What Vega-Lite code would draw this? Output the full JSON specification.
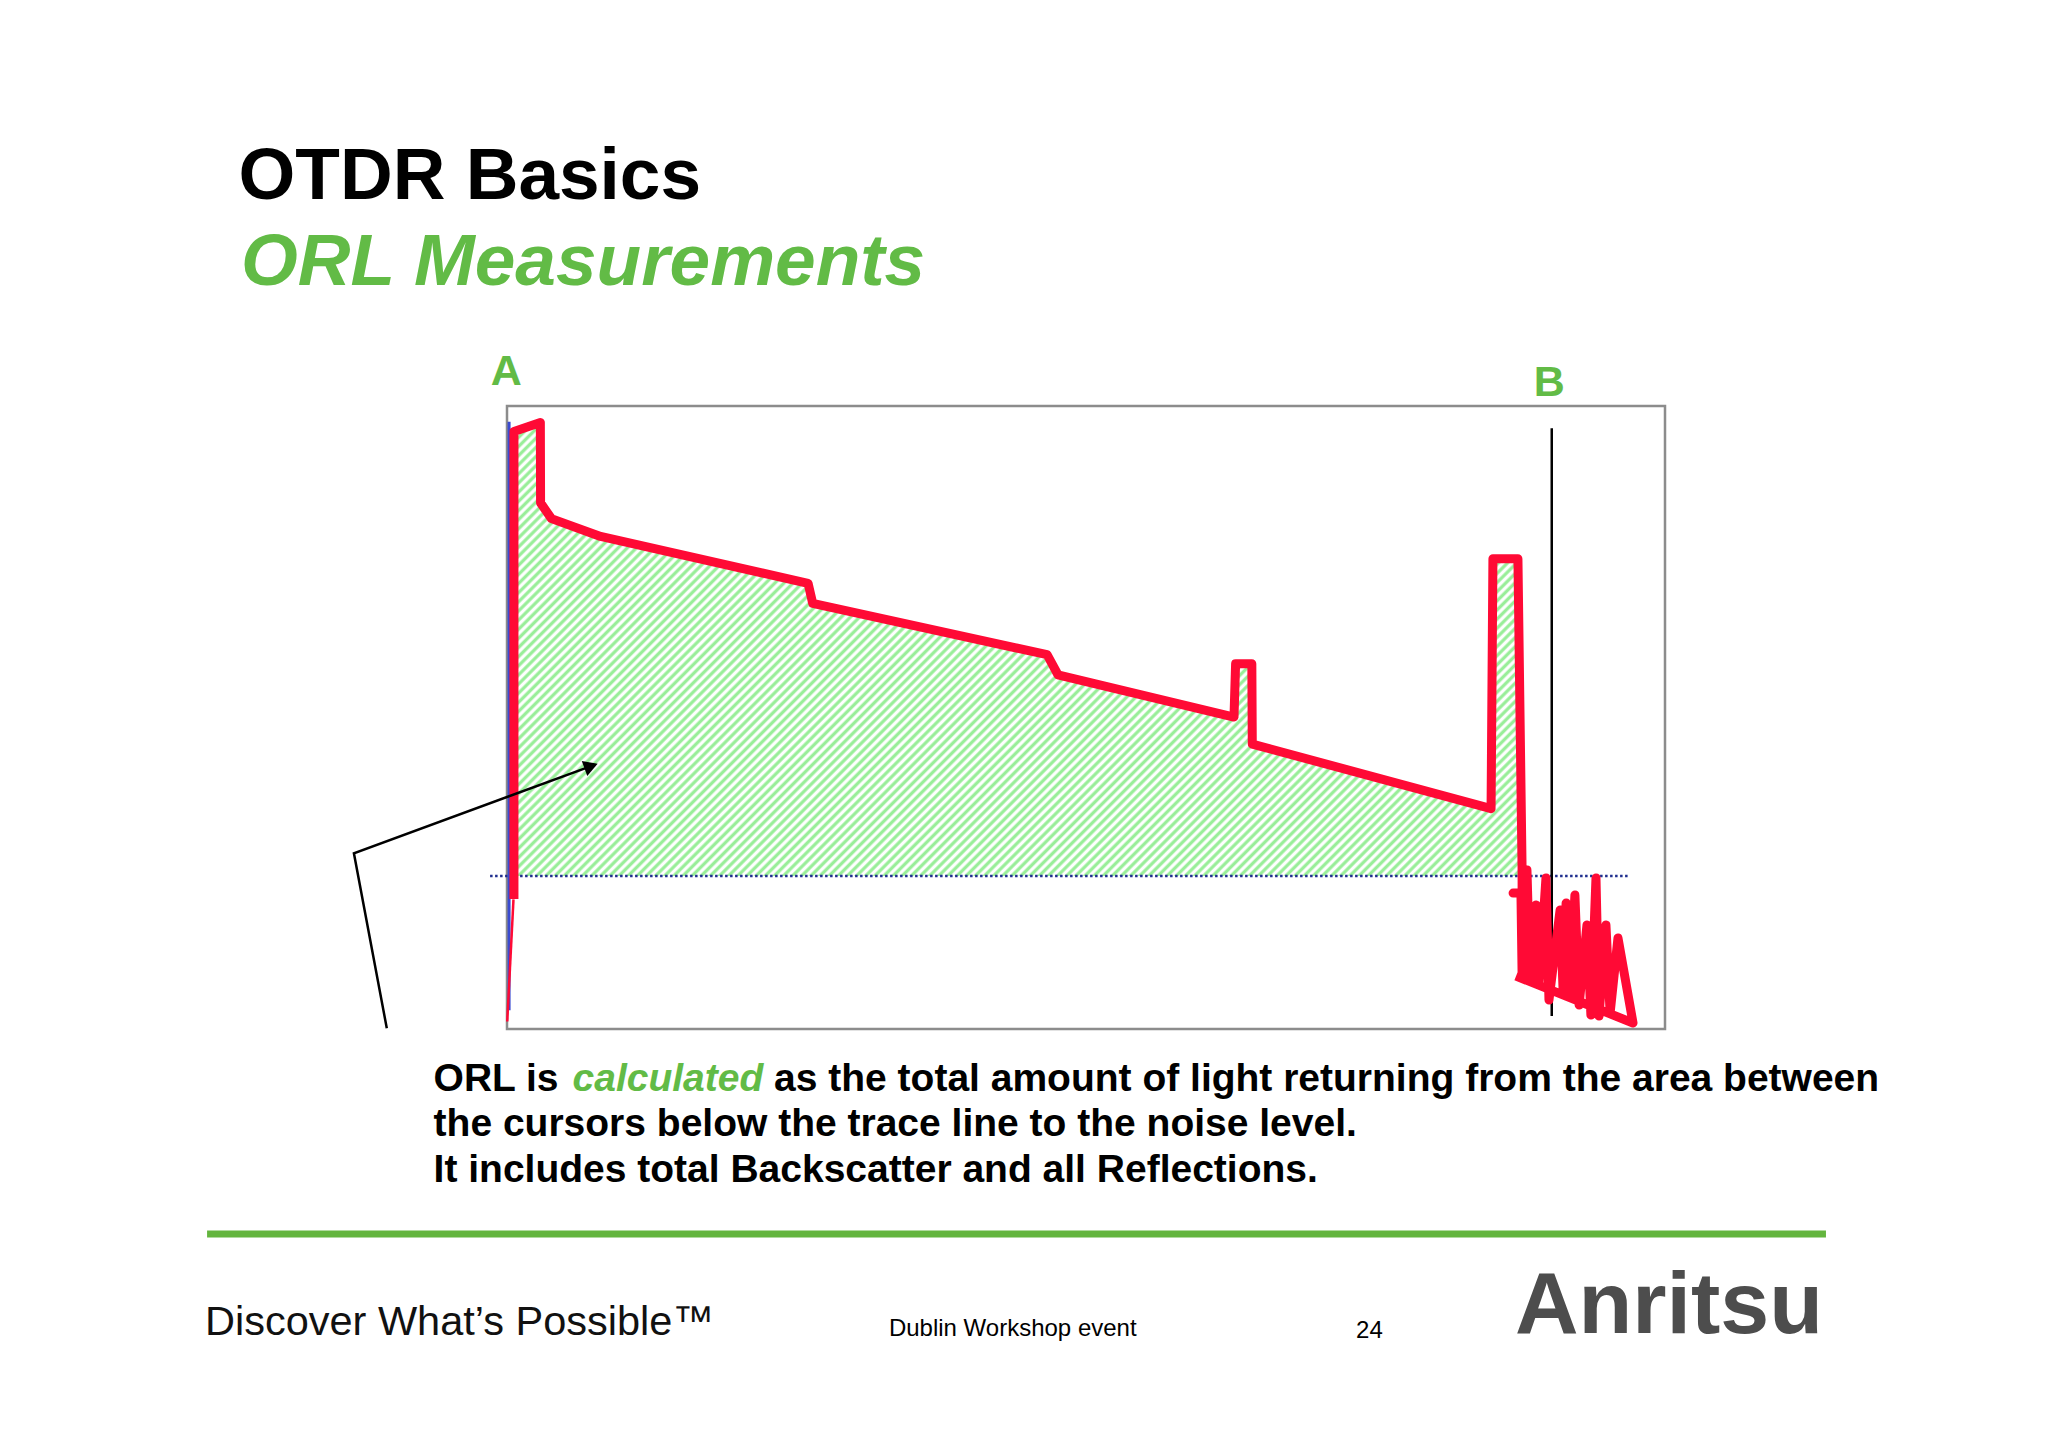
{
  "$schema": "https://vega.github.io/schema/vega-lite/v6.json",
  "width": 1158,
  "height": 623,
  "autosize": {"type": "none"},
  "padding": {"left": 507, "top": 406, "right": 383, "bottom": 418},
  "background": "#ffffff",
  "config": {"view": {"stroke": "#8c8c8c", "strokeWidth": 2.5}, "font": "Liberation Sans"},
  "data": {"values": [{"one": 1}]},
  "datasets": {
    "trace": [
      {"i": 1, "km": 0.30, "db": 10.43},
      {"i": 2, "km": 0.30, "db": 47.95},
      {"i": 3, "km": 1.44, "db": 48.67},
      {"i": 4, "km": 1.45, "db": 42.22},
      {"i": 5, "km": 1.92, "db": 40.96},
      {"i": 6, "km": 4.04, "db": 39.53},
      {"i": 7, "km": 13.00, "db": 35.77},
      {"i": 8, "km": 13.20, "db": 34.16},
      {"i": 9, "km": 23.32, "db": 30.04},
      {"i": 10, "km": 23.79, "db": 28.43},
      {"i": 11, "km": 31.39, "db": 25.04},
      {"i": 12, "km": 31.46, "db": 29.32},
      {"i": 13, "km": 32.16, "db": 29.32},
      {"i": 14, "km": 32.18, "db": 22.87},
      {"i": 15, "km": 42.49, "db": 17.68},
      {"i": 16, "km": 42.57, "db": 37.74},
      {"i": 17, "km": 43.65, "db": 37.74},
      {"i": 18, "km": 43.83, "db": 12.68},
      {"i": 19, "km": 43.83, "db": 10.91},
      {"i": 20, "km": 43.44, "db": 10.91},
      {"i": 21, "km": 43.78, "db": 10.91},
      {"i": 22, "km": 43.83, "db": 4.33},
      {"i": 23, "km": 44.04, "db": 12.76},
      {"i": 24, "km": 44.17, "db": 4.09},
      {"i": 25, "km": 44.43, "db": 9.95},
      {"i": 26, "km": 44.56, "db": 3.53},
      {"i": 27, "km": 44.86, "db": 12.12},
      {"i": 28, "km": 44.99, "db": 2.33},
      {"i": 29, "km": 45.47, "db": 9.55},
      {"i": 30, "km": 45.60, "db": 3.13},
      {"i": 31, "km": 45.73, "db": 10.11},
      {"i": 32, "km": 45.90, "db": 2.73},
      {"i": 33, "km": 46.11, "db": 10.75},
      {"i": 34, "km": 46.29, "db": 1.93},
      {"i": 35, "km": 46.63, "db": 8.35},
      {"i": 36, "km": 46.80, "db": 1.12},
      {"i": 37, "km": 47.02, "db": 12.12},
      {"i": 38, "km": 47.15, "db": 1.04},
      {"i": 39, "km": 47.45, "db": 8.35},
      {"i": 40, "km": 47.63, "db": 1.28},
      {"i": 41, "km": 47.97, "db": 7.30},
      {"i": 42, "km": 48.62, "db": 0.48},
      {"i": 43, "km": 43.57, "db": 4.25}
    ],
    "launch": [
      {"i": 1, "km": 0.01, "db": 0.60},
      {"i": 2, "km": 0.28, "db": 10.40}
    ],
    "arrow": [
      {"i": 1, "km": -5.19, "db": 0.06},
      {"i": 2, "km": -6.61, "db": 14.10},
      {"i": 3, "km": 3.63, "db": 21.10}
    ]
  },
  "layer": [
    {
      "data": {"name": "trace"},
      "transform": [{"filter": "datum.i >= 2 && datum.i <= 18"}],
      "mark": {"type": "area", "fill": "#cdf5cb", "fillOpacity": 1},
      "encoding": {
        "x": {"field": "km", "type": "quantitative", "scale": {"domain": [0, 50], "nice": false, "zero": false}, "axis": null},
        "y": {"field": "db", "type": "quantitative", "scale": {"domain": [0, 50], "nice": false, "zero": false}, "axis": null},
        "y2": {"datum": 12.28}
      }
    },
    {
      "data": {"name": "trace"},
      "transform": [{"filter": "datum.i >= 2 && datum.i <= 18"}],
      "mark": {"type": "area", "fillOpacity": 1, "fill": {"gradient": "linear", "x1": 0, "y1": 0, "x2": 1.2059, "y2": 0.5424, "stops": [
{"offset":0,"color":"#9e9"},{"offset":0.0015625,"color":"#9e9"},{"offset":0.003125,"color":"#fff"},{"offset":0.0046875,"color":"#fff"},{"offset":0.00625,"color":"#9e9"},{"offset":0.0078125,"color":"#9e9"},{"offset":0.009375,"color":"#fff"},{"offset":0.0109375,"color":"#fff"},{"offset":0.0125,"color":"#9e9"},{"offset":0.0140625,"color":"#9e9"},{"offset":0.015625,"color":"#fff"},{"offset":0.0171875,"color":"#fff"},{"offset":0.01875,"color":"#9e9"},{"offset":0.0203125,"color":"#9e9"},{"offset":0.021875,"color":"#fff"},{"offset":0.0234375,"color":"#fff"},
{"offset":0.025,"color":"#9e9"},{"offset":0.0265625,"color":"#9e9"},{"offset":0.028125,"color":"#fff"},{"offset":0.0296875,"color":"#fff"},{"offset":0.03125,"color":"#9e9"},{"offset":0.0328125,"color":"#9e9"},{"offset":0.034375,"color":"#fff"},{"offset":0.0359375,"color":"#fff"},{"offset":0.0375,"color":"#9e9"},{"offset":0.0390625,"color":"#9e9"},{"offset":0.040625,"color":"#fff"},{"offset":0.0421875,"color":"#fff"},{"offset":0.04375,"color":"#9e9"},{"offset":0.0453125,"color":"#9e9"},{"offset":0.046875,"color":"#fff"},{"offset":0.0484375,"color":"#fff"},
{"offset":0.05,"color":"#9e9"},{"offset":0.0515625,"color":"#9e9"},{"offset":0.053125,"color":"#fff"},{"offset":0.0546875,"color":"#fff"},{"offset":0.05625,"color":"#9e9"},{"offset":0.0578125,"color":"#9e9"},{"offset":0.059375,"color":"#fff"},{"offset":0.0609375,"color":"#fff"},{"offset":0.0625,"color":"#9e9"},{"offset":0.0640625,"color":"#9e9"},{"offset":0.065625,"color":"#fff"},{"offset":0.0671875,"color":"#fff"},{"offset":0.06875,"color":"#9e9"},{"offset":0.0703125,"color":"#9e9"},{"offset":0.071875,"color":"#fff"},{"offset":0.0734375,"color":"#fff"},
{"offset":0.075,"color":"#9e9"},{"offset":0.0765625,"color":"#9e9"},{"offset":0.078125,"color":"#fff"},{"offset":0.0796875,"color":"#fff"},{"offset":0.08125,"color":"#9e9"},{"offset":0.0828125,"color":"#9e9"},{"offset":0.084375,"color":"#fff"},{"offset":0.0859375,"color":"#fff"},{"offset":0.0875,"color":"#9e9"},{"offset":0.0890625,"color":"#9e9"},{"offset":0.090625,"color":"#fff"},{"offset":0.0921875,"color":"#fff"},{"offset":0.09375,"color":"#9e9"},{"offset":0.0953125,"color":"#9e9"},{"offset":0.096875,"color":"#fff"},{"offset":0.0984375,"color":"#fff"},
{"offset":0.1,"color":"#9e9"},{"offset":0.1015625,"color":"#9e9"},{"offset":0.103125,"color":"#fff"},{"offset":0.1046875,"color":"#fff"},{"offset":0.10625,"color":"#9e9"},{"offset":0.1078125,"color":"#9e9"},{"offset":0.109375,"color":"#fff"},{"offset":0.1109375,"color":"#fff"},{"offset":0.1125,"color":"#9e9"},{"offset":0.1140625,"color":"#9e9"},{"offset":0.115625,"color":"#fff"},{"offset":0.1171875,"color":"#fff"},{"offset":0.11875,"color":"#9e9"},{"offset":0.1203125,"color":"#9e9"},{"offset":0.121875,"color":"#fff"},{"offset":0.1234375,"color":"#fff"},
{"offset":0.125,"color":"#9e9"},{"offset":0.1265625,"color":"#9e9"},{"offset":0.128125,"color":"#fff"},{"offset":0.1296875,"color":"#fff"},{"offset":0.13125,"color":"#9e9"},{"offset":0.1328125,"color":"#9e9"},{"offset":0.134375,"color":"#fff"},{"offset":0.1359375,"color":"#fff"},{"offset":0.1375,"color":"#9e9"},{"offset":0.1390625,"color":"#9e9"},{"offset":0.140625,"color":"#fff"},{"offset":0.1421875,"color":"#fff"},{"offset":0.14375,"color":"#9e9"},{"offset":0.1453125,"color":"#9e9"},{"offset":0.146875,"color":"#fff"},{"offset":0.1484375,"color":"#fff"},
{"offset":0.15,"color":"#9e9"},{"offset":0.1515625,"color":"#9e9"},{"offset":0.153125,"color":"#fff"},{"offset":0.1546875,"color":"#fff"},{"offset":0.15625,"color":"#9e9"},{"offset":0.1578125,"color":"#9e9"},{"offset":0.159375,"color":"#fff"},{"offset":0.1609375,"color":"#fff"},{"offset":0.1625,"color":"#9e9"},{"offset":0.1640625,"color":"#9e9"},{"offset":0.165625,"color":"#fff"},{"offset":0.1671875,"color":"#fff"},{"offset":0.16875,"color":"#9e9"},{"offset":0.1703125,"color":"#9e9"},{"offset":0.171875,"color":"#fff"},{"offset":0.1734375,"color":"#fff"},
{"offset":0.175,"color":"#9e9"},{"offset":0.1765625,"color":"#9e9"},{"offset":0.178125,"color":"#fff"},{"offset":0.1796875,"color":"#fff"},{"offset":0.18125,"color":"#9e9"},{"offset":0.1828125,"color":"#9e9"},{"offset":0.184375,"color":"#fff"},{"offset":0.1859375,"color":"#fff"},{"offset":0.1875,"color":"#9e9"},{"offset":0.1890625,"color":"#9e9"},{"offset":0.190625,"color":"#fff"},{"offset":0.1921875,"color":"#fff"},{"offset":0.19375,"color":"#9e9"},{"offset":0.1953125,"color":"#9e9"},{"offset":0.196875,"color":"#fff"},{"offset":0.1984375,"color":"#fff"},
{"offset":0.2,"color":"#9e9"},{"offset":0.2015625,"color":"#9e9"},{"offset":0.203125,"color":"#fff"},{"offset":0.2046875,"color":"#fff"},{"offset":0.20625,"color":"#9e9"},{"offset":0.2078125,"color":"#9e9"},{"offset":0.209375,"color":"#fff"},{"offset":0.2109375,"color":"#fff"},{"offset":0.2125,"color":"#9e9"},{"offset":0.2140625,"color":"#9e9"},{"offset":0.215625,"color":"#fff"},{"offset":0.2171875,"color":"#fff"},{"offset":0.21875,"color":"#9e9"},{"offset":0.2203125,"color":"#9e9"},{"offset":0.221875,"color":"#fff"},{"offset":0.2234375,"color":"#fff"},
{"offset":0.225,"color":"#9e9"},{"offset":0.2265625,"color":"#9e9"},{"offset":0.228125,"color":"#fff"},{"offset":0.2296875,"color":"#fff"},{"offset":0.23125,"color":"#9e9"},{"offset":0.2328125,"color":"#9e9"},{"offset":0.234375,"color":"#fff"},{"offset":0.2359375,"color":"#fff"},{"offset":0.2375,"color":"#9e9"},{"offset":0.2390625,"color":"#9e9"},{"offset":0.240625,"color":"#fff"},{"offset":0.2421875,"color":"#fff"},{"offset":0.24375,"color":"#9e9"},{"offset":0.2453125,"color":"#9e9"},{"offset":0.246875,"color":"#fff"},{"offset":0.2484375,"color":"#fff"},
{"offset":0.25,"color":"#9e9"},{"offset":0.2515625,"color":"#9e9"},{"offset":0.253125,"color":"#fff"},{"offset":0.2546875,"color":"#fff"},{"offset":0.25625,"color":"#9e9"},{"offset":0.2578125,"color":"#9e9"},{"offset":0.259375,"color":"#fff"},{"offset":0.2609375,"color":"#fff"},{"offset":0.2625,"color":"#9e9"},{"offset":0.2640625,"color":"#9e9"},{"offset":0.265625,"color":"#fff"},{"offset":0.2671875,"color":"#fff"},{"offset":0.26875,"color":"#9e9"},{"offset":0.2703125,"color":"#9e9"},{"offset":0.271875,"color":"#fff"},{"offset":0.2734375,"color":"#fff"},
{"offset":0.275,"color":"#9e9"},{"offset":0.2765625,"color":"#9e9"},{"offset":0.278125,"color":"#fff"},{"offset":0.2796875,"color":"#fff"},{"offset":0.28125,"color":"#9e9"},{"offset":0.2828125,"color":"#9e9"},{"offset":0.284375,"color":"#fff"},{"offset":0.2859375,"color":"#fff"},{"offset":0.2875,"color":"#9e9"},{"offset":0.2890625,"color":"#9e9"},{"offset":0.290625,"color":"#fff"},{"offset":0.2921875,"color":"#fff"},{"offset":0.29375,"color":"#9e9"},{"offset":0.2953125,"color":"#9e9"},{"offset":0.296875,"color":"#fff"},{"offset":0.2984375,"color":"#fff"},
{"offset":0.3,"color":"#9e9"},{"offset":0.3015625,"color":"#9e9"},{"offset":0.303125,"color":"#fff"},{"offset":0.3046875,"color":"#fff"},{"offset":0.30625,"color":"#9e9"},{"offset":0.3078125,"color":"#9e9"},{"offset":0.309375,"color":"#fff"},{"offset":0.3109375,"color":"#fff"},{"offset":0.3125,"color":"#9e9"},{"offset":0.3140625,"color":"#9e9"},{"offset":0.315625,"color":"#fff"},{"offset":0.3171875,"color":"#fff"},{"offset":0.31875,"color":"#9e9"},{"offset":0.3203125,"color":"#9e9"},{"offset":0.321875,"color":"#fff"},{"offset":0.3234375,"color":"#fff"},
{"offset":0.325,"color":"#9e9"},{"offset":0.3265625,"color":"#9e9"},{"offset":0.328125,"color":"#fff"},{"offset":0.3296875,"color":"#fff"},{"offset":0.33125,"color":"#9e9"},{"offset":0.3328125,"color":"#9e9"},{"offset":0.334375,"color":"#fff"},{"offset":0.3359375,"color":"#fff"},{"offset":0.3375,"color":"#9e9"},{"offset":0.3390625,"color":"#9e9"},{"offset":0.340625,"color":"#fff"},{"offset":0.3421875,"color":"#fff"},{"offset":0.34375,"color":"#9e9"},{"offset":0.3453125,"color":"#9e9"},{"offset":0.346875,"color":"#fff"},{"offset":0.3484375,"color":"#fff"},
{"offset":0.35,"color":"#9e9"},{"offset":0.3515625,"color":"#9e9"},{"offset":0.353125,"color":"#fff"},{"offset":0.3546875,"color":"#fff"},{"offset":0.35625,"color":"#9e9"},{"offset":0.3578125,"color":"#9e9"},{"offset":0.359375,"color":"#fff"},{"offset":0.3609375,"color":"#fff"},{"offset":0.3625,"color":"#9e9"},{"offset":0.3640625,"color":"#9e9"},{"offset":0.365625,"color":"#fff"},{"offset":0.3671875,"color":"#fff"},{"offset":0.36875,"color":"#9e9"},{"offset":0.3703125,"color":"#9e9"},{"offset":0.371875,"color":"#fff"},{"offset":0.3734375,"color":"#fff"},
{"offset":0.375,"color":"#9e9"},{"offset":0.3765625,"color":"#9e9"},{"offset":0.378125,"color":"#fff"},{"offset":0.3796875,"color":"#fff"},{"offset":0.38125,"color":"#9e9"},{"offset":0.3828125,"color":"#9e9"},{"offset":0.384375,"color":"#fff"},{"offset":0.3859375,"color":"#fff"},{"offset":0.3875,"color":"#9e9"},{"offset":0.3890625,"color":"#9e9"},{"offset":0.390625,"color":"#fff"},{"offset":0.3921875,"color":"#fff"},{"offset":0.39375,"color":"#9e9"},{"offset":0.3953125,"color":"#9e9"},{"offset":0.396875,"color":"#fff"},{"offset":0.3984375,"color":"#fff"},
{"offset":0.4,"color":"#9e9"},{"offset":0.4015625,"color":"#9e9"},{"offset":0.403125,"color":"#fff"},{"offset":0.4046875,"color":"#fff"},{"offset":0.40625,"color":"#9e9"},{"offset":0.4078125,"color":"#9e9"},{"offset":0.409375,"color":"#fff"},{"offset":0.4109375,"color":"#fff"},{"offset":0.4125,"color":"#9e9"},{"offset":0.4140625,"color":"#9e9"},{"offset":0.415625,"color":"#fff"},{"offset":0.4171875,"color":"#fff"},{"offset":0.41875,"color":"#9e9"},{"offset":0.4203125,"color":"#9e9"},{"offset":0.421875,"color":"#fff"},{"offset":0.4234375,"color":"#fff"},
{"offset":0.425,"color":"#9e9"},{"offset":0.4265625,"color":"#9e9"},{"offset":0.428125,"color":"#fff"},{"offset":0.4296875,"color":"#fff"},{"offset":0.43125,"color":"#9e9"},{"offset":0.4328125,"color":"#9e9"},{"offset":0.434375,"color":"#fff"},{"offset":0.4359375,"color":"#fff"},{"offset":0.4375,"color":"#9e9"},{"offset":0.4390625,"color":"#9e9"},{"offset":0.440625,"color":"#fff"},{"offset":0.4421875,"color":"#fff"},{"offset":0.44375,"color":"#9e9"},{"offset":0.4453125,"color":"#9e9"},{"offset":0.446875,"color":"#fff"},{"offset":0.4484375,"color":"#fff"},
{"offset":0.45,"color":"#9e9"},{"offset":0.4515625,"color":"#9e9"},{"offset":0.453125,"color":"#fff"},{"offset":0.4546875,"color":"#fff"},{"offset":0.45625,"color":"#9e9"},{"offset":0.4578125,"color":"#9e9"},{"offset":0.459375,"color":"#fff"},{"offset":0.4609375,"color":"#fff"},{"offset":0.4625,"color":"#9e9"},{"offset":0.4640625,"color":"#9e9"},{"offset":0.465625,"color":"#fff"},{"offset":0.4671875,"color":"#fff"},{"offset":0.46875,"color":"#9e9"},{"offset":0.4703125,"color":"#9e9"},{"offset":0.471875,"color":"#fff"},{"offset":0.4734375,"color":"#fff"},
{"offset":0.475,"color":"#9e9"},{"offset":0.4765625,"color":"#9e9"},{"offset":0.478125,"color":"#fff"},{"offset":0.4796875,"color":"#fff"},{"offset":0.48125,"color":"#9e9"},{"offset":0.4828125,"color":"#9e9"},{"offset":0.484375,"color":"#fff"},{"offset":0.4859375,"color":"#fff"},{"offset":0.4875,"color":"#9e9"},{"offset":0.4890625,"color":"#9e9"},{"offset":0.490625,"color":"#fff"},{"offset":0.4921875,"color":"#fff"},{"offset":0.49375,"color":"#9e9"},{"offset":0.4953125,"color":"#9e9"},{"offset":0.496875,"color":"#fff"},{"offset":0.4984375,"color":"#fff"},
{"offset":0.5,"color":"#9e9"},{"offset":0.5015625,"color":"#9e9"},{"offset":0.503125,"color":"#fff"},{"offset":0.5046875,"color":"#fff"},{"offset":0.50625,"color":"#9e9"},{"offset":0.5078125,"color":"#9e9"},{"offset":0.509375,"color":"#fff"},{"offset":0.5109375,"color":"#fff"},{"offset":0.5125,"color":"#9e9"},{"offset":0.5140625,"color":"#9e9"},{"offset":0.515625,"color":"#fff"},{"offset":0.5171875,"color":"#fff"},{"offset":0.51875,"color":"#9e9"},{"offset":0.5203125,"color":"#9e9"},{"offset":0.521875,"color":"#fff"},{"offset":0.5234375,"color":"#fff"},
{"offset":0.525,"color":"#9e9"},{"offset":0.5265625,"color":"#9e9"},{"offset":0.528125,"color":"#fff"},{"offset":0.5296875,"color":"#fff"},{"offset":0.53125,"color":"#9e9"},{"offset":0.5328125,"color":"#9e9"},{"offset":0.534375,"color":"#fff"},{"offset":0.5359375,"color":"#fff"},{"offset":0.5375,"color":"#9e9"},{"offset":0.5390625,"color":"#9e9"},{"offset":0.540625,"color":"#fff"},{"offset":0.5421875,"color":"#fff"},{"offset":0.54375,"color":"#9e9"},{"offset":0.5453125,"color":"#9e9"},{"offset":0.546875,"color":"#fff"},{"offset":0.5484375,"color":"#fff"},
{"offset":0.55,"color":"#9e9"},{"offset":0.5515625,"color":"#9e9"},{"offset":0.553125,"color":"#fff"},{"offset":0.5546875,"color":"#fff"},{"offset":0.55625,"color":"#9e9"},{"offset":0.5578125,"color":"#9e9"},{"offset":0.559375,"color":"#fff"},{"offset":0.5609375,"color":"#fff"},{"offset":0.5625,"color":"#9e9"},{"offset":0.5640625,"color":"#9e9"},{"offset":0.565625,"color":"#fff"},{"offset":0.5671875,"color":"#fff"},{"offset":0.56875,"color":"#9e9"},{"offset":0.5703125,"color":"#9e9"},{"offset":0.571875,"color":"#fff"},{"offset":0.5734375,"color":"#fff"},
{"offset":0.575,"color":"#9e9"},{"offset":0.5765625,"color":"#9e9"},{"offset":0.578125,"color":"#fff"},{"offset":0.5796875,"color":"#fff"},{"offset":0.58125,"color":"#9e9"},{"offset":0.5828125,"color":"#9e9"},{"offset":0.584375,"color":"#fff"},{"offset":0.5859375,"color":"#fff"},{"offset":0.5875,"color":"#9e9"},{"offset":0.5890625,"color":"#9e9"},{"offset":0.590625,"color":"#fff"},{"offset":0.5921875,"color":"#fff"},{"offset":0.59375,"color":"#9e9"},{"offset":0.5953125,"color":"#9e9"},{"offset":0.596875,"color":"#fff"},{"offset":0.5984375,"color":"#fff"},
{"offset":0.6,"color":"#9e9"},{"offset":0.6015625,"color":"#9e9"},{"offset":0.603125,"color":"#fff"},{"offset":0.6046875,"color":"#fff"},{"offset":0.60625,"color":"#9e9"},{"offset":0.6078125,"color":"#9e9"},{"offset":0.609375,"color":"#fff"},{"offset":0.6109375,"color":"#fff"},{"offset":0.6125,"color":"#9e9"},{"offset":0.6140625,"color":"#9e9"},{"offset":0.615625,"color":"#fff"},{"offset":0.6171875,"color":"#fff"},{"offset":0.61875,"color":"#9e9"},{"offset":0.6203125,"color":"#9e9"},{"offset":0.621875,"color":"#fff"},{"offset":0.6234375,"color":"#fff"},
{"offset":0.625,"color":"#9e9"},{"offset":0.6265625,"color":"#9e9"},{"offset":0.628125,"color":"#fff"},{"offset":0.6296875,"color":"#fff"},{"offset":0.63125,"color":"#9e9"},{"offset":0.6328125,"color":"#9e9"},{"offset":0.634375,"color":"#fff"},{"offset":0.6359375,"color":"#fff"},{"offset":0.6375,"color":"#9e9"},{"offset":0.6390625,"color":"#9e9"},{"offset":0.640625,"color":"#fff"},{"offset":0.6421875,"color":"#fff"},{"offset":0.64375,"color":"#9e9"},{"offset":0.6453125,"color":"#9e9"},{"offset":0.646875,"color":"#fff"},{"offset":0.6484375,"color":"#fff"},
{"offset":0.65,"color":"#9e9"},{"offset":0.6515625,"color":"#9e9"},{"offset":0.653125,"color":"#fff"},{"offset":0.6546875,"color":"#fff"},{"offset":0.65625,"color":"#9e9"},{"offset":0.6578125,"color":"#9e9"},{"offset":0.659375,"color":"#fff"},{"offset":0.6609375,"color":"#fff"},{"offset":0.6625,"color":"#9e9"},{"offset":0.6640625,"color":"#9e9"},{"offset":0.665625,"color":"#fff"},{"offset":0.6671875,"color":"#fff"},{"offset":0.66875,"color":"#9e9"},{"offset":0.6703125,"color":"#9e9"},{"offset":0.671875,"color":"#fff"},{"offset":0.6734375,"color":"#fff"},
{"offset":0.675,"color":"#9e9"},{"offset":0.6765625,"color":"#9e9"},{"offset":0.678125,"color":"#fff"},{"offset":0.6796875,"color":"#fff"},{"offset":0.68125,"color":"#9e9"},{"offset":0.6828125,"color":"#9e9"},{"offset":0.684375,"color":"#fff"},{"offset":0.6859375,"color":"#fff"},{"offset":0.6875,"color":"#9e9"},{"offset":0.6890625,"color":"#9e9"},{"offset":0.690625,"color":"#fff"},{"offset":0.6921875,"color":"#fff"},{"offset":0.69375,"color":"#9e9"},{"offset":0.6953125,"color":"#9e9"},{"offset":0.696875,"color":"#fff"},{"offset":0.6984375,"color":"#fff"},
{"offset":0.7,"color":"#9e9"},{"offset":0.7015625,"color":"#9e9"},{"offset":0.703125,"color":"#fff"},{"offset":0.7046875,"color":"#fff"},{"offset":0.70625,"color":"#9e9"},{"offset":0.7078125,"color":"#9e9"},{"offset":0.709375,"color":"#fff"},{"offset":0.7109375,"color":"#fff"},{"offset":0.7125,"color":"#9e9"},{"offset":0.7140625,"color":"#9e9"},{"offset":0.715625,"color":"#fff"},{"offset":0.7171875,"color":"#fff"},{"offset":0.71875,"color":"#9e9"},{"offset":0.7203125,"color":"#9e9"},{"offset":0.721875,"color":"#fff"},{"offset":0.7234375,"color":"#fff"},
{"offset":0.725,"color":"#9e9"},{"offset":0.7265625,"color":"#9e9"},{"offset":0.728125,"color":"#fff"},{"offset":0.7296875,"color":"#fff"},{"offset":0.73125,"color":"#9e9"},{"offset":0.7328125,"color":"#9e9"},{"offset":0.734375,"color":"#fff"},{"offset":0.7359375,"color":"#fff"},{"offset":0.7375,"color":"#9e9"},{"offset":0.7390625,"color":"#9e9"},{"offset":0.740625,"color":"#fff"},{"offset":0.7421875,"color":"#fff"},{"offset":0.74375,"color":"#9e9"},{"offset":0.7453125,"color":"#9e9"},{"offset":0.746875,"color":"#fff"},{"offset":0.7484375,"color":"#fff"},
{"offset":0.75,"color":"#9e9"},{"offset":0.7515625,"color":"#9e9"},{"offset":0.753125,"color":"#fff"},{"offset":0.7546875,"color":"#fff"},{"offset":0.75625,"color":"#9e9"},{"offset":0.7578125,"color":"#9e9"},{"offset":0.759375,"color":"#fff"},{"offset":0.7609375,"color":"#fff"},{"offset":0.7625,"color":"#9e9"},{"offset":0.7640625,"color":"#9e9"},{"offset":0.765625,"color":"#fff"},{"offset":0.7671875,"color":"#fff"},{"offset":0.76875,"color":"#9e9"},{"offset":0.7703125,"color":"#9e9"},{"offset":0.771875,"color":"#fff"},{"offset":0.7734375,"color":"#fff"},
{"offset":0.775,"color":"#9e9"},{"offset":0.7765625,"color":"#9e9"},{"offset":0.778125,"color":"#fff"},{"offset":0.7796875,"color":"#fff"},{"offset":0.78125,"color":"#9e9"},{"offset":0.7828125,"color":"#9e9"},{"offset":0.784375,"color":"#fff"},{"offset":0.7859375,"color":"#fff"},{"offset":0.7875,"color":"#9e9"},{"offset":0.7890625,"color":"#9e9"},{"offset":0.790625,"color":"#fff"},{"offset":0.7921875,"color":"#fff"},{"offset":0.79375,"color":"#9e9"},{"offset":0.7953125,"color":"#9e9"},{"offset":0.796875,"color":"#fff"},{"offset":0.7984375,"color":"#fff"},
{"offset":0.8,"color":"#9e9"},{"offset":0.8015625,"color":"#9e9"},{"offset":0.803125,"color":"#fff"},{"offset":0.8046875,"color":"#fff"},{"offset":0.80625,"color":"#9e9"},{"offset":0.8078125,"color":"#9e9"},{"offset":0.809375,"color":"#fff"},{"offset":0.8109375,"color":"#fff"},{"offset":0.8125,"color":"#9e9"},{"offset":0.8140625,"color":"#9e9"},{"offset":0.815625,"color":"#fff"},{"offset":0.8171875,"color":"#fff"},{"offset":0.81875,"color":"#9e9"},{"offset":0.8203125,"color":"#9e9"},{"offset":0.821875,"color":"#fff"},{"offset":0.8234375,"color":"#fff"},
{"offset":0.825,"color":"#9e9"},{"offset":0.8265625,"color":"#9e9"},{"offset":0.828125,"color":"#fff"},{"offset":0.8296875,"color":"#fff"},{"offset":0.83125,"color":"#9e9"},{"offset":0.8328125,"color":"#9e9"},{"offset":0.834375,"color":"#fff"},{"offset":0.8359375,"color":"#fff"},{"offset":0.8375,"color":"#9e9"},{"offset":0.8390625,"color":"#9e9"},{"offset":0.840625,"color":"#fff"},{"offset":0.8421875,"color":"#fff"},{"offset":0.84375,"color":"#9e9"},{"offset":0.8453125,"color":"#9e9"},{"offset":0.846875,"color":"#fff"},{"offset":0.8484375,"color":"#fff"},
{"offset":0.85,"color":"#9e9"},{"offset":0.8515625,"color":"#9e9"},{"offset":0.853125,"color":"#fff"},{"offset":0.8546875,"color":"#fff"},{"offset":0.85625,"color":"#9e9"},{"offset":0.8578125,"color":"#9e9"},{"offset":0.859375,"color":"#fff"},{"offset":0.8609375,"color":"#fff"},{"offset":0.8625,"color":"#9e9"},{"offset":0.8640625,"color":"#9e9"},{"offset":0.865625,"color":"#fff"},{"offset":0.8671875,"color":"#fff"},{"offset":0.86875,"color":"#9e9"},{"offset":0.8703125,"color":"#9e9"},{"offset":0.871875,"color":"#fff"},{"offset":0.8734375,"color":"#fff"},
{"offset":0.875,"color":"#9e9"},{"offset":0.8765625,"color":"#9e9"},{"offset":0.878125,"color":"#fff"},{"offset":0.8796875,"color":"#fff"},{"offset":0.88125,"color":"#9e9"},{"offset":0.8828125,"color":"#9e9"},{"offset":0.884375,"color":"#fff"},{"offset":0.8859375,"color":"#fff"},{"offset":0.8875,"color":"#9e9"},{"offset":0.8890625,"color":"#9e9"},{"offset":0.890625,"color":"#fff"},{"offset":0.8921875,"color":"#fff"},{"offset":0.89375,"color":"#9e9"},{"offset":0.8953125,"color":"#9e9"},{"offset":0.896875,"color":"#fff"},{"offset":0.8984375,"color":"#fff"},
{"offset":0.9,"color":"#9e9"},{"offset":0.9015625,"color":"#9e9"},{"offset":0.903125,"color":"#fff"},{"offset":0.9046875,"color":"#fff"},{"offset":0.90625,"color":"#9e9"},{"offset":0.9078125,"color":"#9e9"},{"offset":0.909375,"color":"#fff"},{"offset":0.9109375,"color":"#fff"},{"offset":0.9125,"color":"#9e9"},{"offset":0.9140625,"color":"#9e9"},{"offset":0.915625,"color":"#fff"},{"offset":0.9171875,"color":"#fff"},{"offset":0.91875,"color":"#9e9"},{"offset":0.9203125,"color":"#9e9"},{"offset":0.921875,"color":"#fff"},{"offset":0.9234375,"color":"#fff"},
{"offset":0.925,"color":"#9e9"},{"offset":0.9265625,"color":"#9e9"},{"offset":0.928125,"color":"#fff"},{"offset":0.9296875,"color":"#fff"},{"offset":0.93125,"color":"#9e9"},{"offset":0.9328125,"color":"#9e9"},{"offset":0.934375,"color":"#fff"},{"offset":0.9359375,"color":"#fff"},{"offset":0.9375,"color":"#9e9"},{"offset":0.9390625,"color":"#9e9"},{"offset":0.940625,"color":"#fff"},{"offset":0.9421875,"color":"#fff"},{"offset":0.94375,"color":"#9e9"},{"offset":0.9453125,"color":"#9e9"},{"offset":0.946875,"color":"#fff"},{"offset":0.9484375,"color":"#fff"},
{"offset":0.95,"color":"#9e9"},{"offset":0.9515625,"color":"#9e9"},{"offset":0.953125,"color":"#fff"},{"offset":0.9546875,"color":"#fff"},{"offset":0.95625,"color":"#9e9"},{"offset":0.9578125,"color":"#9e9"},{"offset":0.959375,"color":"#fff"},{"offset":0.9609375,"color":"#fff"},{"offset":0.9625,"color":"#9e9"},{"offset":0.9640625,"color":"#9e9"},{"offset":0.965625,"color":"#fff"},{"offset":0.9671875,"color":"#fff"},{"offset":0.96875,"color":"#9e9"},{"offset":0.9703125,"color":"#9e9"},{"offset":0.971875,"color":"#fff"},{"offset":0.9734375,"color":"#fff"},
{"offset":0.975,"color":"#9e9"},{"offset":0.9765625,"color":"#9e9"},{"offset":0.978125,"color":"#fff"},{"offset":0.9796875,"color":"#fff"},{"offset":0.98125,"color":"#9e9"},{"offset":0.9828125,"color":"#9e9"},{"offset":0.984375,"color":"#fff"},{"offset":0.9859375,"color":"#fff"},{"offset":0.9875,"color":"#9e9"},{"offset":0.9890625,"color":"#9e9"},{"offset":0.990625,"color":"#fff"},{"offset":0.9921875,"color":"#fff"},{"offset":0.99375,"color":"#9e9"},{"offset":0.9953125,"color":"#9e9"},{"offset":0.996875,"color":"#fff"},{"offset":0.9984375,"color":"#fff"},
{"offset":1,"color":"#9e9"}
      ]}},
      "encoding": {
        "x": {"field": "km", "type": "quantitative", "scale": {"domain": [0, 50], "nice": false, "zero": false}, "axis": null},
        "y": {"field": "db", "type": "quantitative", "scale": {"domain": [0, 50], "nice": false, "zero": false}, "axis": null},
        "y2": {"datum": 12.28}
      }
    },
    {
      "mark": {"type": "rule", "color": "#1f2f8f", "strokeWidth": 2.5, "strokeDash": [2.5, 2.5]},
      "encoding": {
        "x": {"datum": -0.73, "type": "quantitative", "scale": {"domain": [0, 50], "nice": false, "zero": false}, "axis": null},
        "x2": {"datum": 48.49},
        "y": {"datum": 12.28, "type": "quantitative", "scale": {"domain": [0, 50], "nice": false, "zero": false}, "axis": null}
      }
    },
    {
      "mark": {"type": "rule", "color": "#3a4bd0", "strokeWidth": 3},
      "encoding": {
        "x": {"datum": 0.09, "type": "quantitative", "scale": {"domain": [0, 50], "nice": false, "zero": false}, "axis": null},
        "y": {"datum": 1.5, "type": "quantitative", "scale": {"domain": [0, 50], "nice": false, "zero": false}, "axis": null},
        "y2": {"datum": 48.74}
      }
    },
    {
      "mark": {"type": "rule", "color": "#000000", "strokeWidth": 2.5},
      "encoding": {
        "x": {"datum": 45.11, "type": "quantitative", "scale": {"domain": [0, 50], "nice": false, "zero": false}, "axis": null},
        "y": {"datum": 1.04, "type": "quantitative", "scale": {"domain": [0, 50], "nice": false, "zero": false}, "axis": null},
        "y2": {"datum": 48.21}
      }
    },
    {
      "data": {"name": "launch"},
      "mark": {"type": "line", "color": "#ff0a35", "strokeWidth": 2.5},
      "encoding": {
        "x": {"field": "km", "type": "quantitative", "scale": {"domain": [0, 50], "nice": false, "zero": false}, "axis": null},
        "y": {"field": "db", "type": "quantitative", "scale": {"domain": [0, 50], "nice": false, "zero": false}, "axis": null},
        "order": {"field": "i"}
      }
    },
    {
      "data": {"name": "trace"},
      "mark": {"type": "line", "color": "#ff0a35", "strokeWidth": 9, "strokeJoin": "round", "strokeCap": "butt"},
      "encoding": {
        "x": {"field": "km", "type": "quantitative", "scale": {"domain": [0, 50], "nice": false, "zero": false}, "axis": null},
        "y": {"field": "db", "type": "quantitative", "scale": {"domain": [0, 50], "nice": false, "zero": false}, "axis": null},
        "order": {"field": "i"}
      }
    },
    {
      "data": {"name": "arrow"},
      "mark": {"type": "line", "color": "#000000", "strokeWidth": 2.5},
      "encoding": {
        "x": {"field": "km", "type": "quantitative", "scale": {"domain": [0, 50], "nice": false, "zero": false}, "axis": null},
        "y": {"field": "db", "type": "quantitative", "scale": {"domain": [0, 50], "nice": false, "zero": false}, "axis": null},
        "order": {"field": "i"}
      }
    },
    {
      "mark": {"type": "point", "shape": "triangle-right", "filled": true, "size": 260, "angle": 340, "color": "#000000", "opacity": 1},
      "encoding": {
        "x": {"datum": 3.63, "type": "quantitative", "scale": {"domain": [0, 50], "nice": false, "zero": false}, "axis": null},
        "y": {"datum": 21.10, "type": "quantitative", "scale": {"domain": [0, 50], "nice": false, "zero": false}, "axis": null}
      }
    },
    {
      "mark": {"type": "text", "text": "OTDR Basics", "font": "Liberation Sans", "fontSize": 73, "fontWeight": "bold", "align": "left", "baseline": "alphabetic", "fill": "#000000"},
      "encoding": {
        "x": {"datum": -11.59, "type": "quantitative", "scale": {"domain": [0, 50], "nice": false, "zero": false}, "axis": null},
        "y": {"datum": 66.65, "type": "quantitative", "scale": {"domain": [0, 50], "nice": false, "zero": false}, "axis": null}
      }
    },
    {
      "mark": {"type": "text", "text": "ORL Measurements", "font": "Liberation Sans", "fontSize": 73, "fontWeight": "bold", "fontStyle": "italic", "align": "left", "baseline": "alphabetic", "fill": "#62bb46"},
      "encoding": {
        "x": {"datum": -11.49, "type": "quantitative", "scale": {"domain": [0, 50], "nice": false, "zero": false}, "axis": null},
        "y": {"datum": 59.74, "type": "quantitative", "scale": {"domain": [0, 50], "nice": false, "zero": false}, "axis": null}
      }
    },
    {
      "mark": {"type": "text", "text": "A", "font": "Liberation Sans", "fontSize": 43, "fontWeight": "bold", "align": "center", "baseline": "alphabetic", "fill": "#62bb46"},
      "encoding": {
        "x": {"datum": -0.03, "type": "quantitative", "scale": {"domain": [0, 50], "nice": false, "zero": false}, "axis": null},
        "y": {"datum": 51.69, "type": "quantitative", "scale": {"domain": [0, 50], "nice": false, "zero": false}, "axis": null}
      }
    },
    {
      "mark": {"type": "text", "text": "B", "font": "Liberation Sans", "fontSize": 43, "fontWeight": "bold", "align": "center", "baseline": "alphabetic", "fill": "#62bb46"},
      "encoding": {
        "x": {"datum": 45.0, "type": "quantitative", "scale": {"domain": [0, 50], "nice": false, "zero": false}, "axis": null},
        "y": {"datum": 50.80, "type": "quantitative", "scale": {"domain": [0, 50], "nice": false, "zero": false}, "axis": null}
      }
    },
    {
      "mark": {"type": "text", "text": "ORL is", "font": "Liberation Sans", "fontSize": 39, "fontWeight": "bold", "align": "left", "baseline": "alphabetic", "fill": "#000000"},
      "encoding": {
        "x": {"datum": -3.17, "type": "quantitative", "scale": {"domain": [0, 50], "nice": false, "zero": false}, "axis": null},
        "y": {"datum": -4.94, "type": "quantitative", "scale": {"domain": [0, 50], "nice": false, "zero": false}, "axis": null}
      }
    },
    {
      "mark": {"type": "text", "text": "calculated", "font": "Liberation Sans", "fontSize": 39, "fontWeight": "bold", "fontStyle": "italic", "align": "left", "baseline": "alphabetic", "fill": "#62bb46"},
      "encoding": {
        "x": {"datum": 2.83, "type": "quantitative", "scale": {"domain": [0, 50], "nice": false, "zero": false}, "axis": null},
        "y": {"datum": -4.94, "type": "quantitative", "scale": {"domain": [0, 50], "nice": false, "zero": false}, "axis": null}
      }
    },
    {
      "mark": {"type": "text", "text": "as the total amount of light returning from the area between", "font": "Liberation Sans", "fontSize": 39, "fontWeight": "bold", "align": "left", "baseline": "alphabetic", "fill": "#000000"},
      "encoding": {
        "x": {"datum": 11.53, "type": "quantitative", "scale": {"domain": [0, 50], "nice": false, "zero": false}, "axis": null},
        "y": {"datum": -4.94, "type": "quantitative", "scale": {"domain": [0, 50], "nice": false, "zero": false}, "axis": null}
      }
    },
    {
      "mark": {"type": "text", "text": "the cursors below the trace line to the noise level.", "font": "Liberation Sans", "fontSize": 39, "fontWeight": "bold", "align": "left", "baseline": "alphabetic", "fill": "#000000"},
      "encoding": {
        "x": {"datum": -3.17, "type": "quantitative", "scale": {"domain": [0, 50], "nice": false, "zero": false}, "axis": null},
        "y": {"datum": -8.62, "type": "quantitative", "scale": {"domain": [0, 50], "nice": false, "zero": false}, "axis": null}
      }
    },
    {
      "mark": {"type": "text", "text": "It includes total Backscatter and all Reflections.", "font": "Liberation Sans", "fontSize": 39, "fontWeight": "bold", "align": "left", "baseline": "alphabetic", "fill": "#000000"},
      "encoding": {
        "x": {"datum": -3.17, "type": "quantitative", "scale": {"domain": [0, 50], "nice": false, "zero": false}, "axis": null},
        "y": {"datum": -12.30, "type": "quantitative", "scale": {"domain": [0, 50], "nice": false, "zero": false}, "axis": null}
      }
    },
    {
      "mark": {"type": "rule", "color": "#63b53e", "strokeWidth": 7},
      "encoding": {
        "x": {"datum": -12.95, "type": "quantitative", "scale": {"domain": [0, 50], "nice": false, "zero": false}, "axis": null},
        "x2": {"datum": 56.95},
        "y": {"datum": -16.45, "type": "quantitative", "scale": {"domain": [0, 50], "nice": false, "zero": false}, "axis": null}
      }
    },
    {
      "mark": {"type": "text", "text": "Discover What’s Possible™", "font": "Liberation Sans", "fontSize": 41.5, "align": "left", "baseline": "alphabetic", "fill": "#111111"},
      "encoding": {
        "x": {"datum": -13.04, "type": "quantitative", "scale": {"domain": [0, 50], "nice": false, "zero": false}, "axis": null},
        "y": {"datum": -24.56, "type": "quantitative", "scale": {"domain": [0, 50], "nice": false, "zero": false}, "axis": null}
      }
    },
    {
      "mark": {"type": "text", "text": "Dublin Workshop event", "font": "Liberation Sans", "fontSize": 24, "align": "left", "baseline": "alphabetic", "fill": "#000000"},
      "encoding": {
        "x": {"datum": 16.49, "type": "quantitative", "scale": {"domain": [0, 50], "nice": false, "zero": false}, "axis": null},
        "y": {"datum": -24.64, "type": "quantitative", "scale": {"domain": [0, 50], "nice": false, "zero": false}, "axis": null}
      }
    },
    {
      "mark": {"type": "text", "text": "24", "font": "Liberation Sans", "fontSize": 24, "align": "left", "baseline": "alphabetic", "fill": "#000000"},
      "encoding": {
        "x": {"datum": 36.66, "type": "quantitative", "scale": {"domain": [0, 50], "nice": false, "zero": false}, "axis": null},
        "y": {"datum": -24.80, "type": "quantitative", "scale": {"domain": [0, 50], "nice": false, "zero": false}, "axis": null}
      }
    },
    {
      "mark": {"type": "text", "text": "Anritsu", "font": "Liberation Sans", "fontSize": 88, "fontWeight": "bold", "align": "left", "baseline": "alphabetic", "fill": "#4d4d4d"},
      "encoding": {
        "x": {"datum": 43.52, "type": "quantitative", "scale": {"domain": [0, 50], "nice": false, "zero": false}, "axis": null},
        "y": {"datum": -24.40, "type": "quantitative", "scale": {"domain": [0, 50], "nice": false, "zero": false}, "axis": null}
      }
    }
  ]
}
